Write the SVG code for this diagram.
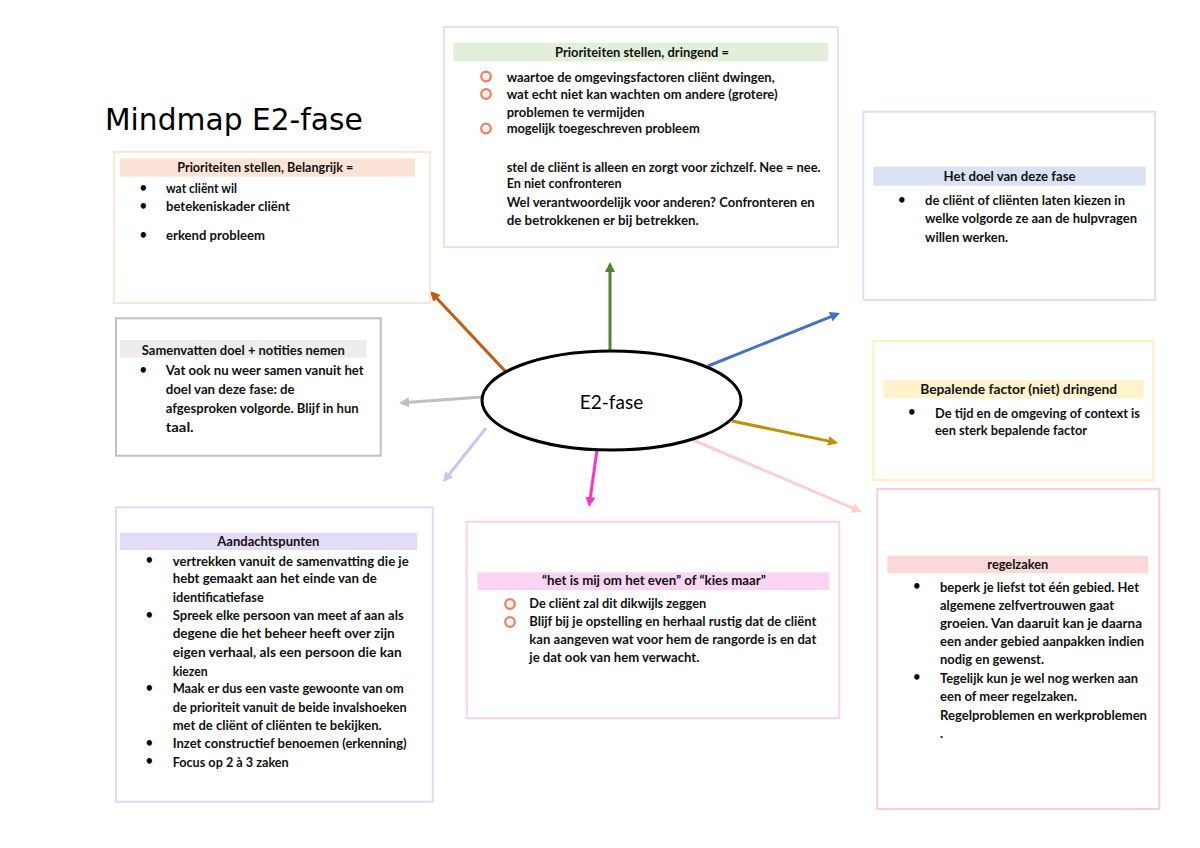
<svg xmlns="http://www.w3.org/2000/svg" width="1200" height="848" viewBox="0 0 1200 848">
<style>
.bg{fill:#ffffff}
.box{fill:#ffffff;stroke-width:2}
.t{font-family:Lato,"Noto Sans",sans-serif;font-size:13px;font-weight:bold;fill:#111111}
.h{text-anchor:middle}
.dot{font-family:"DejaVu Sans",sans-serif;font-size:15px;font-weight:bold;fill:#000;text-anchor:middle}
.ring{fill:#f2f2f2;stroke:#ee7f62;stroke-width:2.2}
.c{fill:none;stroke-width:3}
.title{font-family:"DejaVu Sans",sans-serif;font-size:29.7px;fill:#000}
</style>
<defs>
<marker id="mOrange" markerUnits="userSpaceOnUse" markerWidth="10" markerHeight="10" refX="7" refY="5" orient="auto"><path d="M0,0 L10,5 L0,10 z" fill="#C55A11"/></marker>
<marker id="mGreen" markerUnits="userSpaceOnUse" markerWidth="10" markerHeight="10" refX="7" refY="5" orient="auto"><path d="M0,0 L10,5 L0,10 z" fill="#548235"/></marker>
<marker id="mBlue" markerUnits="userSpaceOnUse" markerWidth="10" markerHeight="10" refX="7" refY="5" orient="auto"><path d="M0,0 L10,5 L0,10 z" fill="#4472C4"/></marker>
<marker id="mGray" markerUnits="userSpaceOnUse" markerWidth="10" markerHeight="10" refX="7" refY="5" orient="auto"><path d="M0,0 L10,5 L0,10 z" fill="#BFBFBF"/></marker>
<marker id="mLav" markerUnits="userSpaceOnUse" markerWidth="10" markerHeight="10" refX="7" refY="5" orient="auto"><path d="M0,0 L10,5 L0,10 z" fill="#CFC3F2"/></marker>
<marker id="mMag" markerUnits="userSpaceOnUse" markerWidth="10" markerHeight="10" refX="7" refY="5" orient="auto"><path d="M0,0 L10,5 L0,10 z" fill="#FF33CC"/></marker>
<marker id="mGold" markerUnits="userSpaceOnUse" markerWidth="10" markerHeight="10" refX="7" refY="5" orient="auto"><path d="M0,0 L10,5 L0,10 z" fill="#BF9000"/></marker>
<marker id="mPink" markerUnits="userSpaceOnUse" markerWidth="10" markerHeight="10" refX="7" refY="5" orient="auto"><path d="M0,0 L10,5 L0,10 z" fill="#FBD0D0"/></marker>
</defs>
<rect class="bg" x="0" y="0" width="1200" height="848"/>

<text class="title" x="105" y="130">Mindmap E2-fase</text>

<g id="connectors">
<line class="c" stroke="#C55A11" x1="506" y1="372" x2="432.1" y2="293.2" marker-end="url(#mOrange)"/>
<line class="c" stroke="#548235" x1="610" y1="351" x2="610" y2="265" marker-end="url(#mGreen)"/>
<line class="c" stroke="#4472C4" x1="708" y1="366" x2="837.2" y2="314.1" marker-end="url(#mBlue)"/>
<line class="c" stroke="#BFBFBF" x1="482" y1="397" x2="402" y2="402.8" marker-end="url(#mGray)"/>
<line class="c" stroke="#CFC3F2" x1="486" y1="428" x2="444.9" y2="479.7" marker-end="url(#mLav)"/>
<line class="c" stroke="#FF33CC" x1="597" y1="450" x2="589.4" y2="504" marker-end="url(#mMag)"/>
<line class="c" stroke="#BF9000" x1="732" y1="421" x2="835.1" y2="442.4" marker-end="url(#mGold)"/>
<line class="c" stroke="#FBD0D0" x1="693" y1="440" x2="859.2" y2="510.8" marker-end="url(#mPink)"/>
</g>

<g id="center">
<ellipse cx="611.5" cy="400.5" rx="129.5" ry="49.5" fill="#ffffff" stroke="#000000" stroke-width="3"/>
<text x="611.5" y="409.3" text-anchor="middle" style="font-family:Lato,'Noto Sans',sans-serif;font-size:19px;fill:#000">E2-fase</text>
</g>

<g id="urgent">
<rect class="box" x="444" y="27" width="394" height="220" stroke="#DCEBD5"/>
<rect x="453.3" y="42.7" width="375" height="18.6" fill="#E2EFDA"/>
<text class="t h" x="642" y="56.5" textLength="174" lengthAdjust="spacingAndGlyphs">Prioriteiten stellen, dringend =</text>
<circle class="ring" cx="486" cy="76.5" r="4.8"/>
<circle class="ring" cx="486" cy="94" r="4.8"/>
<circle class="ring" cx="486" cy="128.5" r="4.8"/>
<text class="t" x="506.7" y="81.7" textLength="268" lengthAdjust="spacingAndGlyphs">waartoe de omgevingsfactoren cliënt dwingen,</text>
<text class="t" x="506.7" y="99" textLength="271" lengthAdjust="spacingAndGlyphs">wat echt niet kan wachten om andere (grotere)</text>
<text class="t" x="506.7" y="116.7" textLength="138" lengthAdjust="spacingAndGlyphs">problemen te vermijden</text>
<text class="t" x="506.7" y="133.3" textLength="193" lengthAdjust="spacingAndGlyphs">mogelijk toegeschreven probleem</text>
<text class="t" x="506.7" y="171.7" textLength="314" lengthAdjust="spacingAndGlyphs">stel de cliënt is alleen en zorgt voor zichzelf. Nee = nee.</text>
<text class="t" x="506.7" y="188.3" textLength="115" lengthAdjust="spacingAndGlyphs">En niet confronteren</text>
<text class="t" x="506.7" y="206.7" textLength="308" lengthAdjust="spacingAndGlyphs">Wel verantwoordelijk voor anderen? Confronteren en</text>
<text class="t" x="506.7" y="225" textLength="192" lengthAdjust="spacingAndGlyphs">de betrokkenen er bij betrekken.</text>
</g>

<g id="important">
<rect class="box" x="114" y="152" width="316" height="151" stroke="#FBE5D6"/>
<rect x="120" y="158.3" width="295" height="18.4" fill="#FBE4D5"/>
<text class="t h" x="265.3" y="172" textLength="176" lengthAdjust="spacingAndGlyphs">Prioriteiten stellen, Belangrijk =</text>
<text class="dot" x="143.3" y="194">•</text>
<text class="dot" x="143.3" y="211.7">•</text>
<text class="dot" x="143.3" y="240.7">•</text>
<text class="t" x="166" y="193.3" textLength="71" lengthAdjust="spacingAndGlyphs">wat cliënt wil</text>
<text class="t" x="166" y="211" textLength="124" lengthAdjust="spacingAndGlyphs">betekeniskader cliënt</text>
<text class="t" x="166" y="240" textLength="99" lengthAdjust="spacingAndGlyphs">erkend probleem</text>
</g>

<g id="goal">
<rect class="box" x="863.3" y="111.7" width="291.7" height="188.3" stroke="#D9E2F3"/>
<rect x="873.3" y="166.7" width="272.4" height="19" fill="#D9E2F3"/>
<text class="t h" x="1009.5" y="181.3" textLength="132" lengthAdjust="spacingAndGlyphs">Het doel van deze fase</text>
<text class="dot" x="901.7" y="205.7">•</text>
<text class="t" x="925" y="205" textLength="200" lengthAdjust="spacingAndGlyphs">de cliënt of cliënten laten kiezen in</text>
<text class="t" x="925" y="223.3" textLength="212" lengthAdjust="spacingAndGlyphs">welke volgorde ze aan de hulpvragen</text>
<text class="t" x="925" y="241.7" textLength="83" lengthAdjust="spacingAndGlyphs">willen werken.</text>
</g>

<g id="summary">
<rect class="box" x="116" y="318.3" width="264.7" height="137.4" stroke="#BFBFBF"/>
<rect x="120" y="340" width="246.7" height="17.7" fill="#EDEDED"/>
<text class="t h" x="243.3" y="354.5" textLength="203" lengthAdjust="spacingAndGlyphs">Samenvatten doel + notities nemen</text>
<text class="dot" x="143.3" y="375.7">•</text>
<text class="t" x="165.7" y="375" textLength="198" lengthAdjust="spacingAndGlyphs">Vat ook nu weer samen vanuit het</text>
<text class="t" x="165.7" y="394" textLength="129" lengthAdjust="spacingAndGlyphs">doel van deze fase: de</text>
<text class="t" x="165.7" y="413" textLength="193" lengthAdjust="spacingAndGlyphs">afgesproken volgorde. Blijf in hun</text>
<text class="t" x="165.7" y="431.7" textLength="28" lengthAdjust="spacingAndGlyphs">taal.</text>
</g>

<g id="factor">
<rect class="box" x="873.3" y="341" width="280" height="139" stroke="#FFEFC2"/>
<rect x="883.3" y="380" width="261" height="18.3" fill="#FFF2CC"/>
<text class="t h" x="1018.7" y="393.6" textLength="197" lengthAdjust="spacingAndGlyphs">Bepalende factor (niet) dringend</text>
<text class="dot" x="911.7" y="418.4">•</text>
<text class="t" x="935" y="417.7" textLength="205" lengthAdjust="spacingAndGlyphs">De tijd en de omgeving of context is</text>
<text class="t" x="935" y="435" textLength="152" lengthAdjust="spacingAndGlyphs">een sterk bepalende factor</text>
</g>

<g id="attention">
<rect class="box" x="116" y="507.3" width="316.7" height="294.4" stroke="#E1D9F6"/>
<rect x="120" y="532.7" width="297.3" height="17.3" fill="#E4DCF7"/>
<text class="t h" x="268.3" y="546" textLength="102" lengthAdjust="spacingAndGlyphs">Aandachtspunten</text>
<text class="dot" x="149.3" y="566.4">•</text>
<text class="dot" x="149.3" y="620.7">•</text>
<text class="dot" x="149.3" y="694">•</text>
<text class="dot" x="149.3" y="749">•</text>
<text class="dot" x="149.3" y="767.4">•</text>
<text class="t" x="172.7" y="565.7" textLength="236" lengthAdjust="spacingAndGlyphs">vertrekken vanuit de samenvatting die je</text>
<text class="t" x="172.7" y="583.3" textLength="204" lengthAdjust="spacingAndGlyphs">hebt gemaakt aan het einde van de</text>
<text class="t" x="172.7" y="601.7" textLength="91" lengthAdjust="spacingAndGlyphs">identificatiefase</text>
<text class="t" x="172.7" y="620" textLength="231" lengthAdjust="spacingAndGlyphs">Spreek elke persoon van meet af aan als</text>
<text class="t" x="172.7" y="638.3" textLength="222" lengthAdjust="spacingAndGlyphs">degene die het beheer heeft over zijn</text>
<text class="t" x="172.7" y="656.7" textLength="229" lengthAdjust="spacingAndGlyphs">eigen verhaal, als een persoon die kan</text>
<text class="t" x="172.7" y="675.7" textLength="35" lengthAdjust="spacingAndGlyphs">kiezen</text>
<text class="t" x="172.7" y="693.3" textLength="231" lengthAdjust="spacingAndGlyphs">Maak er dus een vaste gewoonte van om</text>
<text class="t" x="172.7" y="711.7" textLength="234" lengthAdjust="spacingAndGlyphs">de prioriteit vanuit de beide invalshoeken</text>
<text class="t" x="172.7" y="730" textLength="209" lengthAdjust="spacingAndGlyphs">met de cliënt of cliënten te bekijken.</text>
<text class="t" x="172.7" y="748.3" textLength="234" lengthAdjust="spacingAndGlyphs">Inzet constructief benoemen (erkenning)</text>
<text class="t" x="172.7" y="766.7" textLength="116" lengthAdjust="spacingAndGlyphs">Focus op 2 à 3 zaken</text>
</g>

<g id="even">
<rect class="box" x="466.7" y="521.7" width="372.6" height="196.6" stroke="#F9CFF2"/>
<rect x="477.3" y="572.3" width="352" height="17.7" fill="#FAD4F3"/>
<text class="t h" x="653.9" y="585.3" textLength="224" lengthAdjust="spacingAndGlyphs">“het is mij om het even” of “kies maar”</text>
<circle class="ring" cx="510" cy="604" r="4.8"/>
<circle class="ring" cx="510" cy="622" r="4.8"/>
<text class="t" x="529.3" y="608.3" textLength="177" lengthAdjust="spacingAndGlyphs">De cliënt zal dit dikwijls zeggen</text>
<text class="t" x="529.3" y="626" textLength="287" lengthAdjust="spacingAndGlyphs">Blijf bij je opstelling en herhaal rustig dat de cliënt</text>
<text class="t" x="529.3" y="644.3" textLength="287" lengthAdjust="spacingAndGlyphs">kan aangeven wat voor hem de rangorde is en dat</text>
<text class="t" x="529.3" y="662.3" textLength="170" lengthAdjust="spacingAndGlyphs">je dat ook van hem verwacht.</text>
</g>

<g id="rules">
<rect class="box" x="877.3" y="489" width="282" height="320" stroke="#F8CECE"/>
<rect x="887.3" y="555.7" width="261" height="17.6" fill="#FCD9D9"/>
<text class="t h" x="1017.8" y="568.6" textLength="61" lengthAdjust="spacingAndGlyphs">regelzaken</text>
<text class="dot" x="916.7" y="592.4">•</text>
<text class="dot" x="916.7" y="683.4">•</text>
<text class="t" x="940" y="591.7" textLength="199" lengthAdjust="spacingAndGlyphs">beperk je liefst tot één gebied. Het</text>
<text class="t" x="940" y="610" textLength="174" lengthAdjust="spacingAndGlyphs">algemene zelfvertrouwen gaat</text>
<text class="t" x="940" y="627.7" textLength="202" lengthAdjust="spacingAndGlyphs">groeien. Van daaruit kan je daarna</text>
<text class="t" x="940" y="646" textLength="204" lengthAdjust="spacingAndGlyphs">een ander gebied aanpakken indien</text>
<text class="t" x="940" y="664.3" textLength="104" lengthAdjust="spacingAndGlyphs">nodig en gewenst.</text>
<text class="t" x="940" y="682.7" textLength="198" lengthAdjust="spacingAndGlyphs">Tegelijk kun je wel nog werken aan</text>
<text class="t" x="940" y="701" textLength="137" lengthAdjust="spacingAndGlyphs">een of meer regelzaken.</text>
<text class="t" x="940" y="720" textLength="207" lengthAdjust="spacingAndGlyphs">Regelproblemen en werkproblemen</text>
<text class="t" x="940" y="738.3">.</text>
</g>
</svg>
